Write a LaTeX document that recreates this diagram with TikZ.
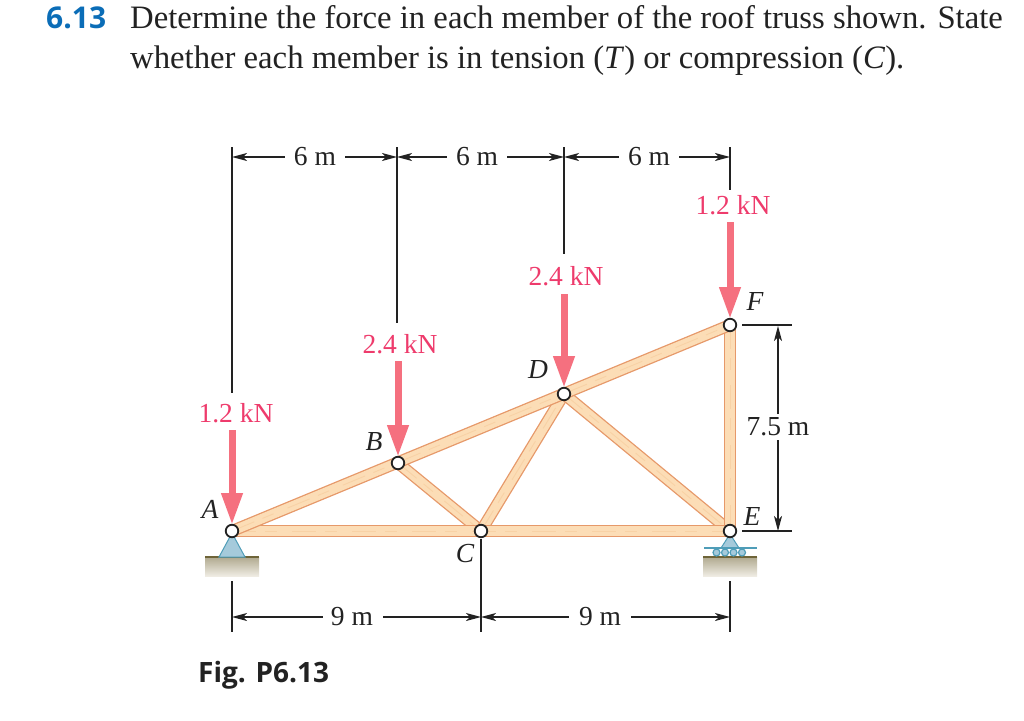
\documentclass[tikz,border=0pt]{standalone}
\usepackage{fontspec}
\setmainfont{Liberation Serif}
\newfontfamily\figsans{Open Sans}
\usetikzlibrary{arrows.meta}
\definecolor{loadred}{HTML}{F5707F}
\definecolor{loadtext}{HTML}{EE3B6C}
\definecolor{woodedge}{HTML}{E6996A}
\definecolor{woodfill}{HTML}{FCDDB6}
\definecolor{woodgrain}{HTML}{F8D2A6}
\definecolor{suppfill}{HTML}{A5CADB}
\definecolor{suppedge}{HTML}{4F9DB8}
\definecolor{ink}{HTML}{222222}
\definecolor{headblue}{HTML}{0B6DB7}
\definecolor{groundtop}{HTML}{B0A98F}
\definecolor{groundbot}{HTML}{EFECE3}
\definecolor{groundline}{HTML}{6E6438}
\tikzset{
  x=1pt,y=-1pt,
  edgebar/.style={line width=12pt,draw=woodedge},
  fillbar/.style={line width=9.4pt,draw=woodfill},
  grainbar/.style={line width=0.9pt,draw=woodgrain,dash pattern=on 24pt off 9pt on 12pt off 15pt},
  joint/.style={circle,draw=ink,fill=white,line width=1.8pt,minimum size=12.5pt,inner sep=0pt},
  load/.style={line width=7pt,draw=loadred,-{Triangle[length=32pt,width=20pt,fill=loadred]}},
  loadlabel/.style={text=loadtext,font=\fontsize{27.5}{27.5}\selectfont,inner sep=0pt},
  jlabel/.style={text=ink,font=\fontsize{27.5}{27.5}\selectfont\itshape,inner sep=0pt},
  dimlabel/.style={text=ink,font=\fontsize{27.5}{27.5}\selectfont,inner sep=0pt},
  extline/.style={draw=ink,line width=1.1pt},
  dimline/.style={draw=ink,line width=1.1pt,-{Stealth[length=15pt,width=8pt,inset=4pt]}},
  headtext/.style={text=ink,font=\fontsize{32.7}{32.7}\selectfont,anchor=base west,inner sep=0pt},
  suppshape/.style={fill=suppfill,draw=suppedge,line width=1pt},
  ground/.style={top color=groundtop,bottom color=groundbot},
  groundedge/.style={draw=groundline,line width=1.2pt},
  roller/.style={circle,fill=suppfill,draw=suppedge,line width=1.2pt,minimum size=7pt,inner sep=0pt},
}
\begin{document}
\begin{tikzpicture}
\useasboundingbox (0,0) rectangle (1024,720);
% heading
\node[anchor=base west,inner sep=0pt,text=headblue,font=\fontsize{30}{30}\figsans\bfseries] (num) at (46,28) {6.13};
\node[headtext] (l1) at (130,28) {Determine the force in each member of the roof truss shown. State};
\node[headtext] (l2) at (130,68) {whether each member is in tension (\textit{T}) or compression (\textit{C}).};
% ground and supports
\shade[ground] (205,557) rectangle (259,576);
\draw[groundedge] (205,557) -- (259,557);
\shade[ground] (703,557) rectangle (757,576);
\draw[groundedge] (703,557) -- (757,557);
\draw[suppshape] (232,533) -- (245,557) -- (219,557) -- cycle;
\draw[suppshape] (730,534) -- (739,548) -- (721,548) -- cycle;
\draw[draw=suppedge,line width=1.2pt] (704,548) -- (757,548);
\node[roller] (r1) at (716.5,552.5) {};
\node[roller] (r2) at (725,552.5) {};
\node[roller] (r3) at (733.5,552.5) {};
\node[roller] (r4) at (742,552.5) {};
% joint coordinates
\coordinate (a) at (232,531);
\coordinate (b) at (398,463);
\coordinate (c) at (481,531);
\coordinate (d) at (564,394);
\coordinate (e) at (730,531);
\coordinate (f) at (730,325);
% members
\foreach \p/\q in {b/c,c/d,d/e,f/e,a/e,a/f}{
  \draw[edgebar] (\p) -- (\q);
  \draw[fillbar] (\p) -- (\q);
  \draw[grainbar] (\p) -- (\q);
}
% extension lines
\coordinate (t1) at (232,147); \coordinate (t1b) at (232,393);
\coordinate (t2) at (397,147); \coordinate (t2b) at (397,323);
\coordinate (t3) at (564,147); \coordinate (t3b) at (564,254);
\coordinate (t4) at (730,147); \coordinate (t4b) at (730,190);
\draw[extline] (t1) -- (t1b);
\draw[extline] (t2) -- (t2b);
\draw[extline] (t3) -- (t3b);
\draw[extline] (t4) -- (t4b);
% top dimensions
\node[dimlabel] (d1) at (315,157) {6 m};
\node[dimlabel] (d2) at (477,157) {6 m};
\node[dimlabel] (d3) at (649,157) {6 m};
\draw[dimline] (d1.west) ++(-9,0) coordinate (d1l) -- (232,157);
\draw[dimline] (d1.east) ++(9,0) coordinate (d1r) -- (397,157);
\draw[dimline] (d2.west) ++(-9,0) coordinate (d2l) -- (397,157);
\draw[dimline] (d2.east) ++(9,0) coordinate (d2r) -- (564,157);
\draw[dimline] (d3.west) ++(-9,0) coordinate (d3l) -- (564,157);
\draw[dimline] (d3.east) ++(9,0) coordinate (d3r) -- (730,157);
% right dimension
\coordinate (fr1) at (742,325); \coordinate (fr2) at (792,325);
\coordinate (er1) at (742,531); \coordinate (er2) at (792,531);
\draw[extline] (fr1) -- (fr2);
\draw[extline] (er1) -- (er2);
\node[dimlabel] (d7) at (778,427) {7.5 m};
\coordinate (d7t) at (778,414);
\coordinate (d7b) at (778,440);
\draw[dimline] (d7t) -- (778,326);
\draw[dimline] (d7b) -- (778,531);
% bottom dimensions
\coordinate (bl1) at (232,581); \coordinate (bl1b) at (232,632);
\coordinate (bl2) at (481,539); \coordinate (bl2b) at (481,632);
\coordinate (bl3) at (730,581); \coordinate (bl3b) at (730,632);
\draw[extline] (bl1) -- (bl1b);
\draw[extline] (bl2) -- (bl2b);
\draw[extline] (bl3) -- (bl3b);
\node[dimlabel] (d9a) at (352,617) {9 m};
\node[dimlabel] (d9b) at (600,617) {9 m};
\draw[dimline] (d9a.west) ++(-8,0) coordinate (d9al) -- (232,617);
\draw[dimline] (d9a.east) ++(10,0) coordinate (d9ar) -- (481,617);
\draw[dimline] (d9b.west) ++(-10,0) coordinate (d9bl) -- (481,617);
\draw[dimline] (d9b.east) ++(10,0) coordinate (d9br) -- (730,617);
% loads
\coordinate (la) at (232,430); \coordinate (lae) at (232,525);
\coordinate (lb) at (398,361); \coordinate (lbe) at (398,457);
\coordinate (ld) at (564,294); \coordinate (lde) at (564,388);
\coordinate (lf) at (730,222); \coordinate (lfe) at (730,319);
\draw[load] (la) -- (lae);
\draw[load] (lb) -- (lbe);
\draw[load] (ld) -- (lde);
\draw[load] (lf) -- (lfe);
\node[loadlabel] (ka) at (236,413) {1.2 kN};
\node[loadlabel] (kb) at (400,344) {2.4 kN};
\node[loadlabel] (kd) at (566,276) {2.4 kN};
\node[loadlabel] (kf) at (733,205) {1.2 kN};
% joints
\node[joint] (ja) at (a) {};
\node[joint] (jb) at (b) {};
\node[joint] (jc) at (c) {};
\node[joint] (jd) at (d) {};
\node[joint] (je) at (e) {};
\node[joint] (jf) at (f) {};
% joint labels
\node[jlabel] (la1) at (210,509) {A};
\node[jlabel] (lb1) at (374,442) {B};
\node[jlabel] (lc1) at (465,554) {C};
\node[jlabel] (ld1) at (538,370) {D};
\node[jlabel] (le1) at (752,516) {E};
\node[jlabel] (lf1) at (755,301) {F};
% figure caption
\node[anchor=base west,inner sep=0pt,text=ink,font=\fontsize{28}{28}\figsans\bfseries] (cap) at (198,682) {Fig. P6.13};
\end{tikzpicture}
\end{document}
